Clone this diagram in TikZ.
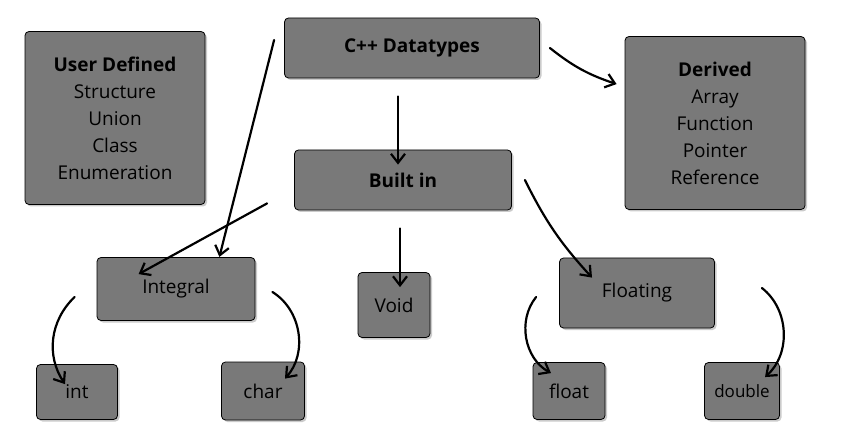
\documentclass[tikz,border=0pt]{standalone}
\usepackage{fontspec}
\setmainfont{Open Sans}
\usetikzlibrary{shadows,arrows.meta}
\begin{document}
\begin{tikzpicture}[x=1pt,y=-1pt,
 box/.style={draw=black,line width=0.8pt,fill=gray!95!black,rounded corners=4pt,
   drop shadow={shadow xshift=2pt,shadow yshift=-2pt,fill=black!40},align=center,
   font=\fontsize{19}{27}\selectfont,inner sep=0pt},
 arr/.style={-{Straight Barb[length=9pt,width=14pt]},line width=2.2pt,line cap=round}]
\useasboundingbox (0,0) rectangle (850,443);
\fill[white] (0,0) rectangle (850,443);
\node[box,minimum width=255,minimum height=60] (cpp) at (412,48) {\textbf{C++ Datatypes}};
\node[box,minimum width=180,minimum height=173] (ud) at (115,118) {\textbf{User Defined}\\Structure\\Union\\Class\\Enumeration};
\node[box,minimum width=180,minimum height=173] (der) at (715,123) {\textbf{Derived}\\Array\\Function\\Pointer\\Reference};
\node[box,minimum width=217,minimum height=60] (bi) at (403,180) {\textbf{Built in}};
\node[box,minimum width=158,minimum height=63] (int) at (176,289) {Integral};
\node[box,minimum width=72,minimum height=65] (void) at (394,305) {Void};
\node[box,minimum width=155,minimum height=70] (fl) at (637,293) {Floating};
\node[box,minimum width=81,minimum height=55] (i) at (77,392) {int};
\node[box,minimum width=83,minimum height=58] (c) at (263,391) {char};
\node[box,minimum width=72,minimum height=57] (f) at (569,391) {float};
\node[box,minimum width=75,minimum height=57,font=\fontsize{17}{20}\selectfont] (d) at (742,391) {double};
\draw[arr] (cpp.west)++(-10,-8) -- ([xshift=14pt,yshift=-52pt]ud.south east) coordinate (a1) ;
\draw[arr] (cpp.east)++(10,0) to[bend right=10] ([xshift=-8pt,yshift=-48pt]der.north west);
\draw[arr] (cpp.south)++(-14,18) -- ([xshift=-5pt,yshift=-15pt]bi.north);
\draw[arr] (bi.south west)++(-27,-7) -- ([xshift=42pt,yshift=-17pt]int.north west);
\draw[arr] (bi.south)++(-3,18) -- ([xshift=6pt,yshift=-15pt]void.north);
\draw[arr] (bi.east)++(13,0) to[bend right=8] ([xshift=-45pt,yshift=-20pt]fl.north);
\draw[arr] (int.west)++(-22,8) to[bend right=40] ([xshift=-12pt,yshift=-20pt]i.north);
\draw[arr] (int.east)++(17,3) to[bend left=50] ([xshift=22pt,yshift=-17pt]c.north);
\draw[arr] (fl.west)++(-23,4) to[bend right=50] ([xshift=-18pt,yshift=-11pt]f.north);
\draw[arr] (fl.east)++(47,-5) to[bend left=50] ([xshift=23pt,yshift=-15pt]d.north);
\end{tikzpicture}
\end{document}
